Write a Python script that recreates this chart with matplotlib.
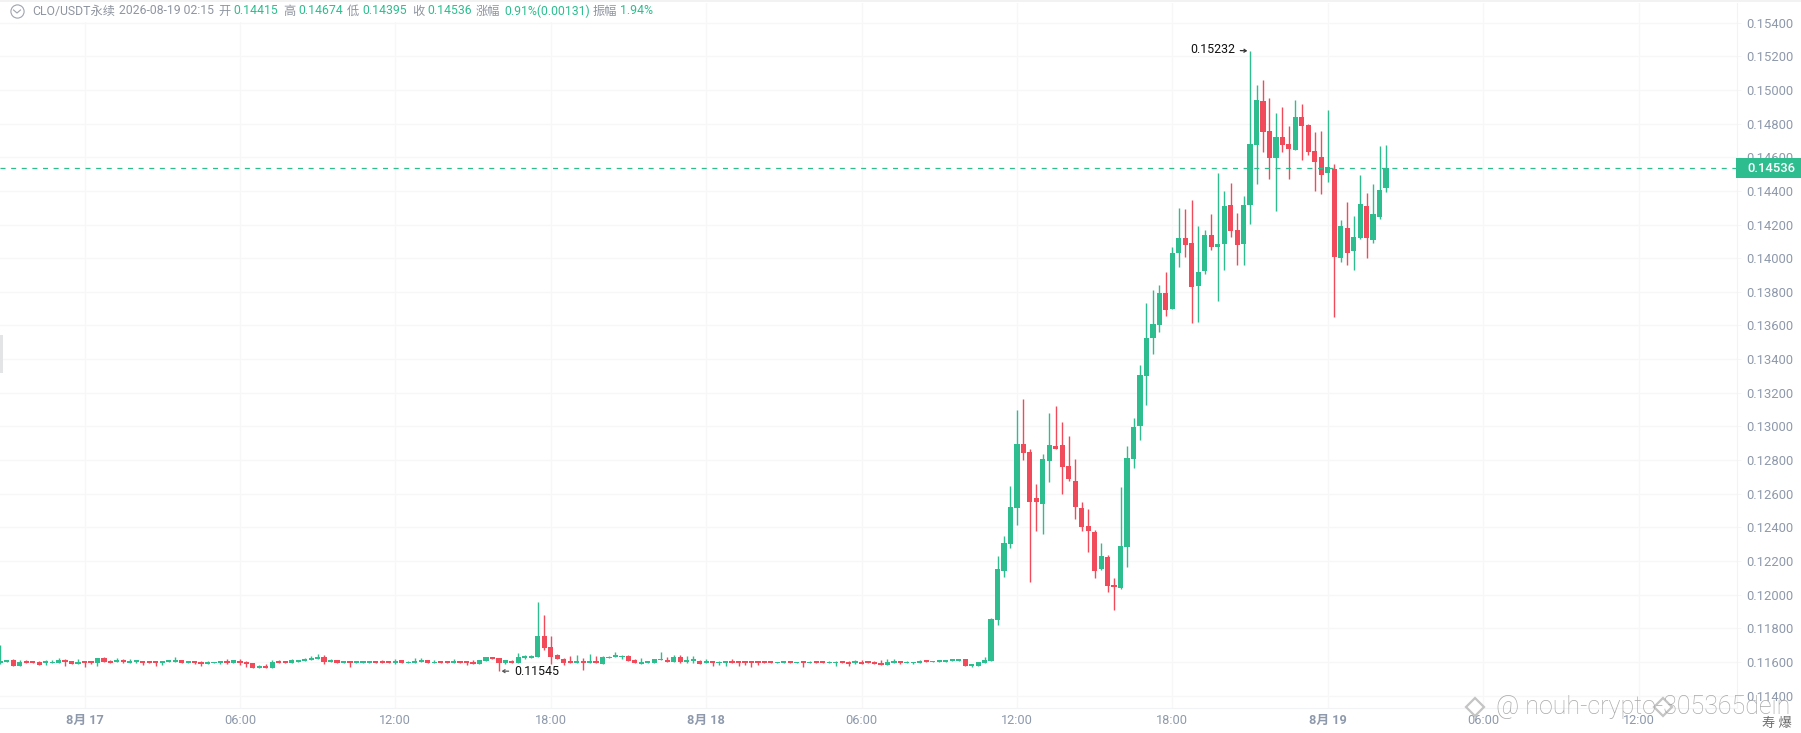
"""CLO/USDT perpetual 15 minute candles, static copy of the exchange chart."""

import matplotlib

matplotlib.use("Agg")
import matplotlib.pyplot as plt
import numpy as np
from matplotlib.lines import Line2D
from matplotlib.patches import Rectangle

plt.rcParams["font.family"] = ["Roboto", "Noto Sans CJK SC", "DejaVu Sans"]

WIDTH, HEIGHT = 1801, 733
UP, DOWN = "#2EBD8F", "#F04A5B"
GRID = "#F7F7F8"
AXIS_TEXT = "#8E99AB"
HEAD_TEXT = "#8F95A0"

opens = [
    .11594, .116, .11612, .11576, .11606, .11606, .116, .11594, .11596, .11594,
    .11612, .11606, .11588, .11606, .11606, .11594, .11624, .11606, .116, .11612,
    .11594, .116, .11606, .11606, .11606, .11594, .116, .116, .11612, .11594,
    .11606, .116, .11588, .11594, .11594, .11606, .11594, .11606, .116, .11594,
    .11564, .11576, .11564, .11606, .11606, .11594, .116, .11606, .11612, .11618,
    .1163, .116, .11612, .11596, .11608, .11596, .11596, .11596, .11608, .11608,
    .11608, .11596, .11614, .11596, .11596, .11602, .11614, .11596, .11608, .11608,
    .11596, .11608, .11608, .11602, .1159, .11608, .1163, .11624, .11596, .11608,
    .11596, .11624, .11624, .1163, .11754, .11689, .11642, .1162, .11608, .11596,
    .11608, .11596, .11608, .1159, .11624, .11632, .11632, .11636, .11612, .1159,
    .11596, .11596, .11614, .11612, .116, .1163, .116, .11606, .11606, .11594,
    .11606, .11594, .11594, .11606, .11606, .11606, .11606, .11606, .11606, .11606,
    .11594, .11594, .11606, .11596, .11606, .11594, .11606, .11606, .11594, .11596,
    .11606, .11602, .11594, .116, .11606, .116, .11594, .11582, .11594, .11606,
    .11594, .11594, .11594, .11612, .116, .116, .116, .11606, .11606, .11618,
    .11576, .11576, .11594, .11606, .11849, .12142, .12303, .12517, .12896, .12848,
    .12575, .12541, .12796, .12884, .1289, .12765, .12676, .12515, .12408, .12372,
    .12151, .12224, .12057, .1204, .12283, .12806, .13003, .133, .13526, .13603,
    .13793, .13698, .14031, .1412, .1409, .13835, .13924, .14138, .14066, .14084,
    .14316, .14168, .14084, .14316, .14673, .14934, .14756, .14595, .1472, .14679,
    .14643, .14839, .14792, .14637, .14601, .14506, .1453, .14001, .14179, .14043,
    .1412, .1431, .14108, .14245, .14415,
]
highs = [
    .11701, .11614, .11618, .11612, .11614, .11608, .11606, .11614, .11612, .11624,
    .1162, .11606, .11616, .11606, .11606, .11624, .1163, .11612, .11624, .11616,
    .11618, .11612, .11606, .11606, .11606, .11606, .11612, .11628, .11612, .11606,
    .11606, .11606, .11606, .11598, .11606, .11616, .11612, .11618, .11606, .11594,
    .11582, .11588, .11612, .1161, .11606, .11618, .11612, .11622, .11636, .11646,
    .11642, .11618, .11612, .11608, .11608, .11608, .11608, .11608, .11608, .11612,
    .11608, .11616, .11614, .11606, .11624, .11624, .11614, .1161, .11608, .11608,
    .11616, .11608, .11608, .11614, .11614, .1163, .1163, .11624, .1161, .11612,
    .11653, .11642, .11642, .11956, .11879, .11754, .11646, .11624, .11636, .11642,
    .11626, .11648, .11636, .11636, .11636, .11657, .11644, .11644, .1162, .11624,
    .11608, .11618, .11659, .11628, .11644, .11642, .11636, .11636, .11612, .11616,
    .11606, .11606, .11606, .11618, .11606, .11606, .11606, .11606, .11606, .11606,
    .116, .11606, .11606, .116, .11606, .11606, .11606, .11606, .11606, .11606,
    .11606, .11606, .11614, .11612, .11606, .11606, .11614, .11616, .11618, .11606,
    .11606, .116, .1161, .11612, .11606, .11612, .11612, .11618, .11618, .11618,
    .11588, .116, .1163, .11861, .1223, .12349, .12648, .13096, .13163, .12866,
    .12658, .12836, .1308, .1312, .13024, .12941, .12805, .12551, .12507, .12384,
    .12305, .12236, .12099, .12642, .12884, .13048, .13367, .13734, .13811, .13842,
    .13916, .14066, .14298, .14291, .14346, .14191, .14168, .14261, .14505, .14398,
    .14445, .1427, .14371, .15232, .15029, .15059, .14954, .14863, .14899, .14784,
    .14938, .14918, .14798, .1475, .14758, .14881, .1456, .14227, .14332, .14251,
    .14494, .14386, .14441, .14667, .14674,
]
lows = [
    .11588, .116, .11576, .11576, .11592, .11594, .1158, .11584, .11594, .11594,
    .11576, .11588, .11586, .11572, .1159, .11576, .116, .11594, .11598, .11594,
    .11594, .11594, .11584, .11594, .11576, .11582, .116, .11598, .11594, .11594,
    .11588, .11576, .11588, .11594, .11588, .11586, .11594, .1158, .11572, .11564,
    .11564, .11564, .11564, .11594, .11594, .11594, .116, .11606, .11612, .11616,
    .11588, .116, .11594, .11596, .1157, .11596, .11596, .11596, .11596, .11592,
    .11596, .1159, .11592, .11596, .11596, .11602, .11596, .11596, .11592, .11596,
    .11596, .11596, .1158, .11588, .1159, .11608, .1162, .11545, .11588, .11596,
    .11596, .1162, .11622, .1163, .11671, .1159, .11616, .11582, .11594, .11594,
    .11549, .11596, .11596, .1159, .11624, .11628, .1162, .11608, .11592, .1159,
    .11596, .11596, .11614, .116, .116, .11596, .11592, .11594, .11588, .11594,
    .11574, .11584, .11578, .11594, .11578, .11582, .11568, .11584, .11594, .11592,
    .11594, .11594, .11594, .11596, .11572, .11594, .11594, .11594, .11594, .11578,
    .11594, .11578, .11588, .11588, .11596, .1159, .1158, .11582, .11594, .11588,
    .11594, .1159, .11594, .116, .116, .116, .116, .11606, .11606, .11576,
    .11568, .11576, .11594, .11606, .1182, .12107, .12279, .12414, .12802, .12077,
    .12378, .12361, .12671, .12866, .12597, .12677, .12448, .12378, .12255, .12097,
    .12147, .12016, .11909, .12034, .12163, .12753, .12919, .13129, .1343, .13561,
    .13658, .13698, .13948, .14007, .13616, .13619, .13906, .14049, .13746, .1393,
    .14128, .13958, .13961, .14201, .14441, .14629, .14471, .14279, .14631, .14469,
    .14643, .14584, .14613, .14399, .14382, .14453, .13652, .13976, .13959, .1393,
    .14112, .13999, .14088, .14231, .14395,
]
closes = [
    .11606, .11612, .11576, .11598, .11594, .11596, .11582, .11606, .116, .11612,
    .116, .11588, .116, .11594, .11594, .11624, .116, .11594, .11612, .116,
    .11606, .11612, .11594, .11594, .11594, .11606, .11612, .11612, .11594, .11606,
    .11594, .11588, .116, .11598, .11606, .11594, .11612, .11594, .11588, .11564,
    .11576, .11564, .116, .11594, .11594, .11612, .11612, .11618, .11624, .1163,
    .116, .11612, .11594, .11608, .11596, .11608, .11608, .11608, .11596, .11596,
    .11596, .11608, .11596, .11602, .11608, .11614, .11596, .11602, .11596, .11596,
    .11608, .11596, .11596, .1159, .11614, .1163, .1162, .11596, .1161, .11596,
    .1163, .11636, .11636, .11754, .11685, .1163, .11618, .11596, .11596, .11608,
    .11596, .11608, .11596, .1163, .11632, .11642, .11638, .11608, .11594, .11602,
    .11608, .11618, .11618, .116, .1163, .116, .11612, .11618, .11588, .11606,
    .11594, .116, .11606, .11594, .11594, .11594, .11594, .11594, .11594, .11594,
    .116, .11606, .11594, .116, .11594, .116, .11594, .11594, .116, .11602,
    .11594, .11588, .11606, .11588, .11596, .1159, .11584, .116, .11606, .11594,
    .116, .116, .11606, .116, .11606, .11612, .11612, .11618, .11618, .11576,
    .11588, .116, .11612, .11855, .12153, .12307, .12521, .12896, .12844, .12553,
    .12553, .12806, .1289, .12866, .12759, .12687, .12521, .12402, .12378, .12142,
    .1223, .12051, .12046, .12289, .12812, .12997, .13306, .13526, .13609, .13793,
    .13694, .14031, .1412, .14078, .13829, .13918, .14138, .14066, .14084, .1431,
    .14162, .14078, .14316, .14679, .1494, .1475, .14595, .1472, .14673, .14649,
    .14839, .14786, .14631, .14572, .14494, .14542, .14007, .14191, .14031, .14126,
    .14322, .1412, .14263, .14405, .14536,
]

time_labels = ["8月 17", "06:00", "12:00", "18:00", "8月 18", "06:00",
               "12:00", "18:00", "8月 19", "06:00", "12:00"]
first_midnight = 13  # candle index of 8/17 00:00
candles_per_tick = 24
price_ticks = [.114, .116, .118, .12, .122, .124, .126, .128, .13, .132, .134,
               .136, .138, .14, .142, .144, .146, .148, .15, .152, .154]
last_price = 0.14536
high_mark = (193, 0.15232)
low_mark = (77, 0.11545)

header = [
    (32, "CLO/USDT永续", HEAD_TEXT), (119, "2026-08-19 02:15", HEAD_TEXT),
    (218, "开", HEAD_TEXT), (233, "0.14415", UP),
    (283, "高", HEAD_TEXT), (298, "0.14674", UP),
    (347, "低", HEAD_TEXT), (362, "0.14395", UP),
    (412, "收", HEAD_TEXT), (427, "0.14536", UP),
    (476, "涨幅", HEAD_TEXT), (504, "0.91%(0.00131)", UP),
    (593, "振幅", HEAD_TEXT), (620, "1.94%", UP),
]


def fig_xy(px, py):
    """Pixel position in the saved image to figure fraction."""
    return px / WIDTH, 1 - py / HEIGHT


def add_fig_rect(fig, x0, y0, x1, y1, color, zorder=5):
    left, bottom = fig_xy(x0, y1)
    fig.add_artist(Rectangle((left, bottom), (x1 - x0) / WIDTH, (y1 - y0) / HEIGHT,
                             transform=fig.transFigure, facecolor=color,
                             edgecolor="none", zorder=zorder))


fig = plt.figure(figsize=(WIDTH / 100, HEIGHT / 100), dpi=100)
ax = fig.add_axes([0, 25 / HEIGHT, 1737 / WIDTH, 705 / HEIGHT])

o, h, l, c = map(np.array, (opens, highs, lows, closes))
x = np.arange(len(c))
colors = np.where(c >= o, UP, DOWN)

ax.vlines(x, l, h, colors=colors, linewidth=1.0, zorder=3)
ax.bar(x, np.abs(c - o), bottom=np.minimum(o, c), width=0.8, color=colors,
       linewidth=0, zorder=3)

ax.set_xlim(-0.05, 268.2)
ax.set_ylim(0.11326, 0.15517)

tick_x = [first_midnight + candles_per_tick * i for i in range(len(time_labels))]
ax.set_xticks(tick_x)
ax.set_xticklabels(time_labels, fontsize=9.2, color=AXIS_TEXT)
for label in ax.get_xticklabels():
    if "月" in label.get_text():
        label.set_fontweight("bold")
ax.tick_params(axis="x", length=0, pad=4)

ax.yaxis.tick_right()
ax.set_yticks(price_ticks)
ax.set_yticklabels([f"{p:.5f}" for p in price_ticks], fontsize=9.4, color=AXIS_TEXT)
ax.tick_params(axis="y", length=3, width=0.7, color=GRID, pad=4)

ax.grid(True, color=GRID, linewidth=0.9)
ax.set_axisbelow(True)
for side in ("left", "top"):
    ax.spines[side].set_visible(False)
for side in ("right", "bottom"):
    ax.spines[side].set_color("#F2F3F4")
    ax.spines[side].set_linewidth(0.8)

# last price line and its tag
ax.axhline(last_price, color=UP, linewidth=0.9, dashes=(4, 4.5), zorder=4)
tag_y = ax.transData.transform((0, last_price))[1]
tag_py = HEIGHT - tag_y
add_fig_rect(fig, 1736, tag_py - 10, 1801, tag_py + 9.5, UP)
tx, ty = fig_xy(1747, tag_py)
fig.text(tx, ty, f"{last_price:.5f}", color="white", fontsize=9.4, fontweight="medium",
         va="center", zorder=6)

# high / low markers
ax.annotate(f"{high_mark[1]:.5f}", xy=high_mark, xycoords="data",
            xytext=(-11, 1), textcoords="offset points", ha="right", va="center",
            fontsize=8.9, color="#111111", zorder=6,
            arrowprops=dict(arrowstyle="->,head_length=0.18,head_width=0.12", color="#333333",
                            lw=0.9, shrinkA=2, shrinkB=2))
ax.annotate(f"{low_mark[1]:.5f}", xy=low_mark, xycoords="data",
            xytext=(11, 0), textcoords="offset points", ha="left", va="center",
            fontsize=8.9, color="#111111", zorder=6,
            arrowprops=dict(arrowstyle="->,head_length=0.18,head_width=0.12", color="#555555",
                            lw=0.9, shrinkA=2, shrinkB=2))

# header strip hides the grid behind the legend text
add_fig_rect(fig, 0, 3, 680, 22, "white", zorder=2)
add_fig_rect(fig, 0, 0, WIDTH, 2, "#F2F2F3", zorder=2)
add_fig_rect(fig, 0, 335, 3, 373, "#E3E4E6", zorder=2)

for px, text, color in header:
    hx, hy = fig_xy(px, 11)
    fig.text(hx, hy, text, color=color, fontsize=8.8, va="center", zorder=6)

cx, cy = fig_xy(17, 11)
fig.add_artist(Line2D([cx], [cy], transform=fig.transFigure, marker="o", markersize=9.5,
                      markerfacecolor="white", markeredgecolor="#9EA3AE",
                      markeredgewidth=0.8, zorder=6))
chev = [fig_xy(13.5, 10), fig_xy(17, 13), fig_xy(20.5, 10)]
fig.add_artist(Line2D([p[0] for p in chev], [p[1] for p in chev], transform=fig.transFigure,
                      color="#9EA3AE", linewidth=0.8, zorder=7))

# watermark
for px in (1475, 1663):
    mx, my = fig_xy(px, 707)
    fig.add_artist(Line2D([mx], [my], transform=fig.transFigure, marker="D", markersize=9,
                          markerfacecolor="white", markeredgecolor="#C4C4C4",
                          markeredgewidth=1.6, zorder=8))
wx, wy = fig_xy(1496, 707)
fig.text(wx, wy, "@ nouh-crypto-305365dein", color="#A8A8A8", fontsize=18, va="center",
         fontweight="light", zorder=8)
bx, by = fig_xy(1762, 723)
fig.text(bx, by, "寿 爆", color="#6E6E6E", fontsize=9.5, va="center", zorder=8)

fig.savefig("out.png", dpi=100)
